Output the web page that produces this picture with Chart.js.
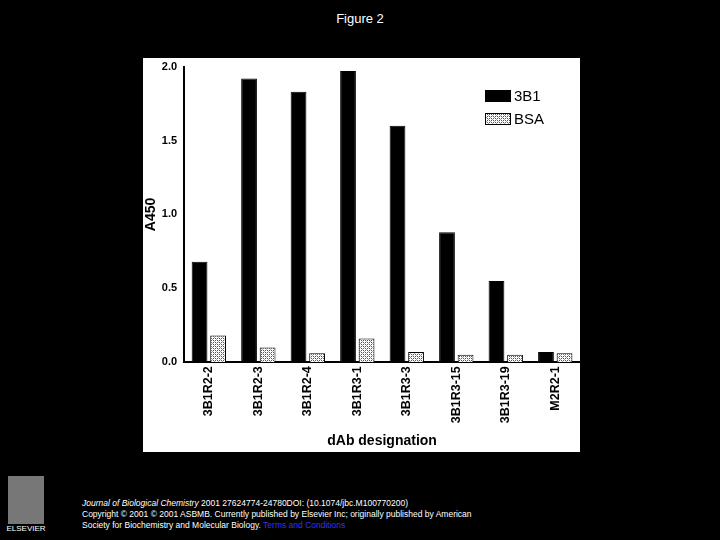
<!DOCTYPE html>
<html><head><meta charset="utf-8">
<script src="https://cdn.jsdelivr.net/npm/chart.js@4"></script>
<style>
body{margin:0;width:720px;height:540px;background:#000;position:relative;overflow:hidden;font-family:"Liberation Sans",Arial,sans-serif;color:#fff}
#title{position:absolute;top:11px;width:720px;text-align:center;font-size:13px}
#panel{position:absolute;left:143px;top:58px;width:437px;height:394px;background:#fff}
#foot{position:absolute;left:82px;top:498px;font-size:8.5px;line-height:11px}
#logo{position:absolute;left:6px;top:476px;width:40px;height:62px;font-size:8px;text-align:center}
a{color:#33f}
</style></head><body>
<div id="title">Figure 2</div>
<div id="panel"><canvas id="c" width="437" height="394"></canvas></div>
<div id="logo"><div style="width:36px;height:48px;margin:0 auto;background:#777"></div>ELSEVIER</div>
<div id="foot"><i>Journal of Biological Chemistry</i> 2001 27624774-24780DOI: (10.1074/jbc.M100770200)<br>Copyright © 2001 © 2001 ASBMB. Currently published by Elsevier Inc; originally published by American<br>Society for Biochemistry and Molecular Biology. <a>Terms and Conditions</a></div>
<script>
const labels = ['3B1R2-2','3B1R2-3','3B1R2-4','3B1R3-1','3B1R3-3','3B1R3-15','3B1R3-19','M2R2-1'];
const values3B1 = [0.68,1.92,1.83,1.97,1.60,0.88,0.55,0.07];
const valuesBSA = [0.18,0.10,0.06,0.16,0.07,0.05,0.05,0.06];

function hatch(){
  const p=document.createElement('canvas');p.width=4;p.height=4;
  const g=p.getContext('2d');g.fillStyle='#fff';g.fillRect(0,0,4,4);
  g.fillStyle='#555';g.fillRect(0,0,1,1);g.fillRect(2,2,1,1);g.fillRect(2,0,1,1);g.fillRect(0,2,1,1);
  g.fillStyle='#aaa';g.fillRect(1,1,1,1);g.fillRect(3,3,1,1);
  return g.createPattern(p,'repeat');
}
const pat = hatch();

const legendPlugin = {
  id:'lg',
  afterDraw(chart){
    const ctx=chart.ctx;
    const items=[['3B1','#000'],['BSA',pat]];
    items.forEach((it,i)=>{
      const x=342,y=32+i*23;
      ctx.fillStyle=it[1];ctx.fillRect(x,y,26,12);
      ctx.strokeStyle='#000';ctx.lineWidth=1;ctx.strokeRect(x+0.5,y+0.5,25,11);
      ctx.fillStyle='#000';ctx.font='15px "Liberation Sans", Arial';ctx.textBaseline='middle';
      ctx.fillText(it[0],x+29,y+7);
    });
  }
};

new Chart(document.getElementById('c'),{
  type:'bar',
  data:{labels:labels,datasets:[
    {label:'3B1',data:values3B1,backgroundColor:'#000',borderColor:'#000',borderWidth:1,categoryPercentage:0.75,barPercentage:0.85},
    {label:'BSA',data:valuesBSA,backgroundColor:pat,borderColor:'#000',borderWidth:1,categoryPercentage:0.75,barPercentage:0.85}
  ]},
  options:{
    responsive:false,animation:false,
    layout:{padding:{top:0,right:0,left:0}},
    plugins:{legend:{display:false},tooltip:{enabled:false}},
    scales:{
      x:{grid:{display:false,drawTicks:false},border:{color:'#000',width:2},
         ticks:{color:'#000',font:{size:12.5,weight:'bold'},maxRotation:90,minRotation:90,padding:4},
         title:{display:true,text:'dAb designation',color:'#000',font:{size:14,weight:'bold'},padding:{top:6,bottom:2}}},
      y:{min:0,max:2,grid:{display:false,drawTicks:true,tickLength:5,tickColor:'#000'},border:{color:'#000',width:2},
         ticks:{stepSize:0.5,color:'#000',font:{size:11,weight:'bold'},padding:2,callback:v=>v.toFixed(1)},
         title:{display:true,text:'A450',color:'#000',font:{size:14,weight:'bold'},padding:0}}
    }
  },
  plugins:[legendPlugin]
});
</script>
</body></html>
